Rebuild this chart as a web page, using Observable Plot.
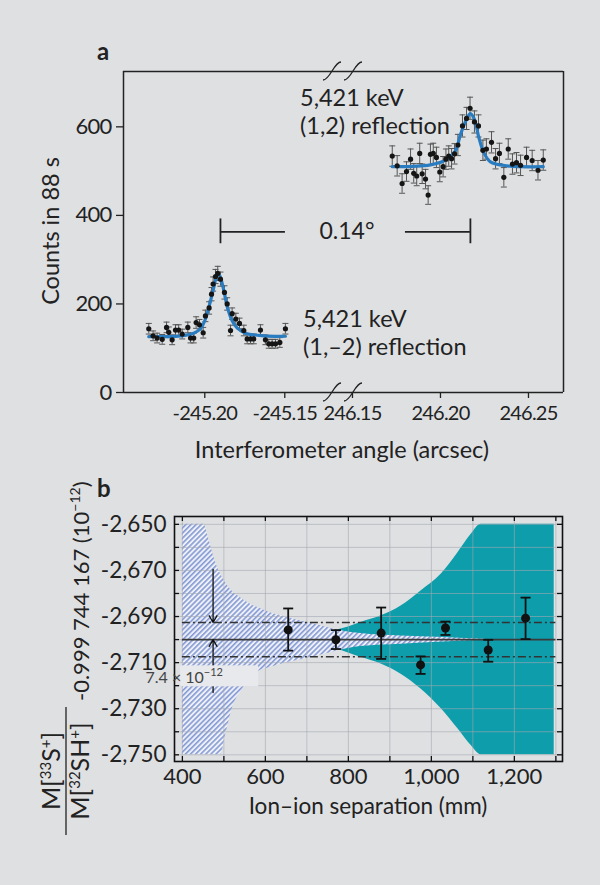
<!DOCTYPE html>
<html>
<head>
<meta charset="utf-8">
<script src="https://cdn.jsdelivr.net/npm/d3@7"></script>
<script src="https://cdn.jsdelivr.net/npm/@observablehq/plot@0.6"></script>
<style>
  html, body { margin: 0; padding: 0; background: #dfe0e2; }
  #fig { position: relative; width: 600px; height: 885px; }
  #fig svg { position: absolute; overflow: visible; }
</style>
</head>
<body>
<div id="fig"></div>
<script>
// ---- panel a: (1,-2) reflection, left of the axis break
const leftAngle = [-245.2350, -245.2323, -245.2298, -245.2266, -245.2239, -245.2225, -245.2204, -245.2183, -245.2163, -245.2141,
  -245.2106, -245.2089, -245.2069, -245.2054, -245.2033, -245.2010, -245.1996, -245.1973, -245.1958, -245.1948,
  -245.1933, -245.1919, -245.1902, -245.1877, -245.1860, -245.1839, -245.1829, -245.1806, -245.1783, -245.1756,
  -245.1735, -245.1714, -245.1694, -245.1652, -245.1621, -245.1600, -245.1579, -245.1558, -245.1531, -245.1496];
const leftCounts = [144, 128, 123, 120, 147, 136, 119, 141, 141, 132,
  147, 123, 123, 158, 153, 135, 173, 191, 222, 245,
  262, 269, 256, 226, 200, 140, 178, 166, 156, 140,
  121, 121, 121, 141, 119, 110, 110, 110, 113, 144];
const leftErr = [12, 11, 11, 11, 12, 12, 11, 12, 12, 11,
  12, 11, 11, 13, 12, 12, 13, 14, 15, 16,
  16, 16, 16, 15, 14, 12, 13, 13, 12, 12,
  11, 11, 11, 12, 11, 10, 10, 10, 11, 12];
const leftFitAngle = [-245.2350, -245.2152, -245.2069, -245.2027, -245.1996, -245.1969, -245.1944, -245.1927, -245.1916,
  -245.1902, -245.1881, -245.1856, -245.1829, -245.1798, -245.1746, -245.1631, -245.1496];
const leftFitCounts = [126, 128, 134, 144, 166, 200, 237, 262, 269, 260, 230, 189, 162, 146, 134, 128, 127];

// ---- panel a: (1,2) reflection, right of the axis break
const rightAngle = [246.1726, 246.1754, 246.1782, 246.1807, 246.1830, 246.1848, 246.1865, 246.1882, 246.1896, 246.1915,
  246.1930, 246.1943, 246.1959, 246.1977, 246.1996, 246.2015, 246.2031, 246.2047, 246.2063, 246.2080,
  246.2099, 246.2125, 246.2148, 246.2168, 246.2193, 246.2216, 246.2241, 246.2261, 246.2290, 246.2313,
  246.2335, 246.2360, 246.2385, 246.2409, 246.2432, 246.2455, 246.2489, 246.2521, 246.2554, 246.2584];
const rightCounts = [534, 512, 472, 499, 527, 495, 489, 540, 494, 482,
  446, 538, 540, 531, 498, 510, 527, 534, 528, 539,
  559, 602, 619, 642, 611, 602, 547, 550, 565, 528,
  540, 486, 550, 516, 519, 513, 531, 524, 502, 525];
const rightErr = [23, 23, 22, 22, 23, 22, 22, 23, 22, 22,
  21, 23, 23, 23, 22, 23, 23, 23, 23, 23,
  24, 25, 25, 25, 25, 25, 23, 23, 24, 23,
  23, 22, 23, 23, 23, 23, 23, 23, 22, 23];
const rightFitAngle = [246.1726, 246.1943, 246.2038, 246.2085, 246.2114, 246.2148, 246.2170, 246.2193, 246.2218,
  246.2246, 246.2284, 246.2379, 246.2584];
const rightFitCounts = [510, 514, 527, 546, 583, 617, 630, 617, 576, 542, 521, 512, 510];

const leftDomain = [-245.2508, -245.1133];
const rightDomain = [246.1449, 246.2699];
const countDomain = [0, 725];
const countTicks = [0, 200, 400, 600];
const leftTicks = [-245.20, -245.15];
const rightTicks = [246.15, 246.20, 246.25];

// 0.14° bracket between the two peaks
const bracketPeak = [-245.1902, 246.2170];
const bracketInner = [-245.1496, 246.1801];
const bracketLevel = 363;
const bracketTick = [336, 392];

// ---- panel b
const sepMm = [655, 770, 879, 974, 1034, 1137, 1227];
const ratio = [-2695.8, -2700.1, -2697.2, -2711.0, -2695.0, -2704.5, -2690.7];
const ratioLo = [-2704.8, -2704.1, -2708.4, -2714.9, -2698.0, -2709.6, -2699.8];
const ratioHi = [-2686.5, -2695.9, -2686.1, -2707.3, -2692.2, -2700.1, -2681.8];
const meanRatio = -2700.0;
const bandRatio = [-2692.6, -2707.4];
const lineSpan = [400, 1300];

const hatchX = [400, 451, 466, 480, 492, 504, 512, 520, 540, 560, 572, 580, 613, 653, 693, 734, 774, 830, 927, 1030, 1130];
const hatchUpper = [-2650, -2650, -2658, -2666.6, -2671.6, -2675.3, -2677.4, -2679, -2681.8, -2684.2, -2685.4, -2686,
  -2688.5, -2690.4, -2692.3, -2694, -2695.8, -2697.4, -2698.4, -2699.1, -2699.9];
const hatchLower = [-2750, -2750, -2750, -2750, -2750, -2741.6, -2735.5, -2730, -2722.9, -2717.8, -2715.5, -2714.2,
  -2712, -2709.9, -2708.4, -2706.7, -2704.8, -2703, -2702, -2701.1, -2700.2];

const tealX = [770, 800, 830, 879, 927, 975, 1024, 1064, 1096, 1120, 1296];
const tealUpper = [-2696, -2694.5, -2692.6, -2689.7, -2685.4, -2678.9, -2671.6, -2662.3, -2654.3, -2650, -2650];
const tealLower = [-2704, -2705.8, -2707.7, -2710.6, -2715, -2721.4, -2730, -2738.7, -2746, -2750, -2750];

const arrowX = 474;
const arrowFrom = [-2669.5, -2723];
const arrowTo = [-2692.6, -2700];

const sepDomain = [381, 1316];
const ratioDomain = [-2752.9, -2646.6];
const sepTicks = [400, 500, 600, 700, 800, 900, 1000, 1100, 1200, 1300];
const sepLabels = [400, 600, 800, 1000, 1200];
const ratioTicks = [-2750, -2740, -2730, -2720, -2710, -2700, -2690, -2680, -2670, -2660, -2650];
const ratioLabels = [-2750, -2730, -2710, -2690, -2670, -2650];

// ---- styling
const FONT = "Lato, 'Open Sans', sans-serif";
const BLUE = "#2a7cc0";
const TEAL = "#0e9dab";
const INK = "#222";

const locale = d3.formatLocale({decimal: ".", thousands: ",", grouping: [3], currency: ["", ""], minus: "-"});
const fmtAngle = locale.format(".2f");
const fmtThousands = locale.format(",");

// short horizontal bar used as error-bar cap
const cap = {
  draw(context, size) {
    const w = Math.sqrt(size / Math.PI);
    context.moveTo(-w, 0);
    context.lineTo(w, 0);
  }
};

const fig = d3.select("#fig");

function peakMarks(angle, counts, err, fitAngle, fitCounts) {
  const rows = angle.map((a, i) => ({angle: a, counts: counts[i], err: err[i]}));
  const fit = fitAngle.map((a, i) => ({angle: a, counts: fitCounts[i]}));
  return [
    Plot.ruleX(rows, {x: "angle", y1: d => d.counts - d.err, y2: d => d.counts + d.err, stroke: "#555", strokeWidth: 1}),
    Plot.dot(rows, {x: "angle", y: d => d.counts + d.err, symbol: cap, r: 3, stroke: "#555", strokeWidth: 1}),
    Plot.dot(rows, {x: "angle", y: d => d.counts - d.err, symbol: cap, r: 3, stroke: "#555", strokeWidth: 1}),
    Plot.line(fit, {x: "angle", y: "counts", stroke: BLUE, strokeWidth: 3.2, curve: "catmull-rom"}),
    Plot.dot(rows, {x: "angle", y: "counts", r: 2.6, fill: "#151515"})
  ];
}

const styleA = {background: "transparent", fontFamily: FONT, fontSize: "20px", letterSpacing: "-0.8px", color: INK, overflow: "visible"};

const leftPlot = Plot.plot({
  width: 343, height: 430,
  marginLeft: 123, marginRight: 0, marginTop: 71, marginBottom: 38,
  x: {domain: leftDomain},
  y: {domain: countDomain},
  style: styleA,
  marks: [
    Plot.ruleY([countDomain[1]], {stroke: INK, strokeWidth: 1.5}),
    Plot.ruleY([countDomain[0]], {stroke: INK, strokeWidth: 1.5}),
    Plot.ruleX([leftDomain[0]], {stroke: INK, strokeWidth: 1.5}),
    Plot.axisY(countTicks, {tickSize: 7, tickPadding: 5, label: null, strokeWidth: 1.3, fontSize: 22}),
    Plot.axisX(leftTicks, {tickSize: 6, tickPadding: 7, tickFormat: fmtAngle, label: null, strokeWidth: 1.3}),
    Plot.ruleX([bracketPeak[0]], {y1: bracketTick[0], y2: bracketTick[1], stroke: INK, strokeWidth: 1.8}),
    Plot.ruleY([bracketLevel], {x1: bracketPeak[0], x2: bracketInner[0], stroke: INK, strokeWidth: 1.8}),
    ...peakMarks(leftAngle, leftCounts, leftErr, leftFitAngle, leftFitCounts)
  ]
});

const rightPlot = Plot.plot({
  width: 257, height: 430,
  marginLeft: 0, marginRight: 37, marginTop: 71, marginBottom: 38,
  x: {domain: rightDomain},
  y: {domain: countDomain, axis: null},
  style: styleA,
  marks: [
    Plot.ruleY([countDomain[1]], {stroke: INK, strokeWidth: 1.5}),
    Plot.ruleY([countDomain[0]], {stroke: INK, strokeWidth: 1.5}),
    Plot.ruleX([rightDomain[1]], {stroke: INK, strokeWidth: 1.5}),
    Plot.axisX(rightTicks, {tickSize: 6, tickPadding: 7, tickFormat: fmtAngle, label: null, strokeWidth: 1.3}),
    Plot.ruleX([bracketPeak[1]], {y1: bracketTick[0], y2: bracketTick[1], stroke: INK, strokeWidth: 1.8}),
    Plot.ruleY([bracketLevel], {x1: bracketInner[1], x2: bracketPeak[1], stroke: INK, strokeWidth: 1.8}),
    ...peakMarks(rightAngle, rightCounts, rightErr, rightFitAngle, rightFitCounts)
  ]
});

fig.append(() => leftPlot).style("left", "0px").style("top", "0px");
fig.append(() => rightPlot).style("left", "343px").style("top", "0px");

// ---- panel b
const pointRows = sepMm.map((x, i) => ({x, y: ratio[i], lo: ratioLo[i], hi: ratioHi[i]}));
const hatchRows = hatchX.map((x, i) => ({x, y1: hatchLower[i], y2: hatchUpper[i]}));
const tealRows = tealX.map((x, i) => ({x, y1: tealLower[i], y2: tealUpper[i]}));
const arrowRows = arrowFrom.map((y, i) => ({x: arrowX, from: y, to: arrowTo[i]}));

const wB = 600, hB = 330, mT = 46, mB = 39, mL = 174, mR = 38;
const innerW = wB - mL - mR, innerH = hB - mT - mB;

const plotB = Plot.plot({
  width: wB, height: hB,
  marginLeft: mL, marginRight: mR, marginTop: mT, marginBottom: mB,
  x: {domain: sepDomain},
  y: {domain: ratioDomain},
  style: {background: "transparent", fontFamily: FONT, fontSize: "22px", color: INK, overflow: "visible"},
  marks: [
    Plot.areaY(tealRows, {x: "x", y1: "y1", y2: "y2", fill: TEAL, curve: "monotone-x"}),
    Plot.areaY(hatchRows, {x: "x", y1: "y1", y2: "y2", fill: "url(#hatchB)", curve: "monotone-x"}),
    Plot.gridX(sepTicks, {stroke: "#a3a9b0", strokeOpacity: 0.6, strokeWidth: 1}),
    Plot.gridY(ratioTicks, {stroke: "#a3a9b0", strokeOpacity: 0.6, strokeWidth: 1}),
    Plot.ruleY([meanRatio], {x1: lineSpan[0], x2: lineSpan[1], stroke: "#3a3a3a", strokeWidth: 1.6}),
    Plot.ruleY(bandRatio, {x1: lineSpan[0], x2: lineSpan[1], stroke: "#333", strokeWidth: 1.5, strokeDasharray: "8,3,2,3"}),
    Plot.arrow(arrowRows, {x1: "x", x2: "x", y1: "from", y2: "to", stroke: "#111", strokeWidth: 1.3, headLength: 9}),
    Plot.ruleX(pointRows, {x: "x", y1: "lo", y2: "hi", stroke: "#111", strokeWidth: 1.8}),
    Plot.dot(pointRows, {x: "x", y: "lo", symbol: cap, r: 5, stroke: "#111", strokeWidth: 1.8}),
    Plot.dot(pointRows, {x: "x", y: "hi", symbol: cap, r: 5, stroke: "#111", strokeWidth: 1.8}),
    Plot.dot(pointRows, {x: "x", y: "y", r: 4.5, fill: "#111"}),
    Plot.frame({stroke: "#111", strokeWidth: 1.6}),
    Plot.tickY(ratioTicks, {y: d => d, insetRight: innerW - 5, stroke: "#111", strokeWidth: 1.3}),
    Plot.tickY(ratioTicks, {y: d => d, insetLeft: innerW - 5, stroke: "#111", strokeWidth: 1.3}),
    Plot.tickX(sepTicks, {x: d => d, insetBottom: innerH - 5, stroke: "#111", strokeWidth: 1.3}),
    Plot.tickX(sepTicks, {x: d => d, insetTop: innerH - 5, stroke: "#111", strokeWidth: 1.3}),
    Plot.axisX(sepLabels, {tickSize: 0, tickPadding: 7, tickFormat: fmtThousands, label: null}),
    Plot.axisY(ratioLabels, {tickSize: 0, tickPadding: 8, tickFormat: fmtThousands, label: null, fontSize: 22.5})
  ]
});

const svgB = d3.select(plotB);
svgB.insert("defs", ":first-child").html(
  '<pattern id="hatchB" patternUnits="userSpaceOnUse" width="3.6" height="3.6" patternTransform="rotate(45)">' +
  '<rect width="3.6" height="3.6" fill="#eef0f8"/><rect width="1.6" height="3.6" fill="#859bd4"/></pattern>');

// 7.4 × 10^-12 label on its light box, placed through the plot's scales
const sx = plotB.scale("x"), sy = plotB.scale("y");
svgB.append("rect")
  .attr("x", sx.apply(396)).attr("y", sy.apply(-2711.4))
  .attr("width", sx.apply(584) - sx.apply(396)).attr("height", sy.apply(-2720.5) - sy.apply(-2711.4))
  .attr("fill", "#e8e9ec");
const boxText = svgB.append("text")
  .attr("x", sx.apply(396) + 4).attr("y", sy.apply(-2719.0))
  .attr("font-size", 16).attr("fill", "#444").attr("font-family", FONT);
boxText.append("tspan").text("7.4 × 10");
boxText.append("tspan").attr("dy", -7).attr("font-size", 11).text("−12");

fig.append(() => plotB).style("left", "0px").style("top", "470px");

// ---- overlay: panel letters, axis titles, annotations, axis breaks
const ov = fig.append("svg")
  .attr("width", 600).attr("height", 885)
  .style("left", "0px").style("top", "0px").style("pointer-events", "none")
  .attr("font-family", FONT).attr("fill", INK);

function txt(x, y, s, size, anchor = "start", weight = "normal") {
  return ov.append("text").attr("x", x).attr("y", y).attr("font-size", size)
    .attr("text-anchor", anchor).attr("font-weight", weight).text(s);
}

txt(97, 60, "a", 24, "start", "bold");
txt(97, 497, "b", 24, "start", "bold");
txt(300, 106, "5,421 keV", 23.5);
txt(300, 134, "(1,2) reflection", 23.5);
txt(303, 327, "5,421 keV", 23.5);
txt(303, 355, "(1,–2) reflection", 23.5);
txt(347, 239, "0.14°", 23, "middle");
txt(342, 458, "Interferometer angle (arcsec)", 23.5, "middle");
txt(368, 814, "Ion–ion separation (mm)", 22.5, "middle");

ov.append("text").attr("transform", "translate(59,231) rotate(-90)")
  .attr("font-size", 23.5).attr("text-anchor", "middle").text("Counts in 88 s");

// axis break marks
for (const cx of [332, 353]) {
  for (const cy of [71, 392]) {
    ov.append("path")
      .attr("d", `M${cx - 9},${cy + 9} C${cx - 2},${cy + 9} ${cx + 2},${cy - 9} ${cx + 9},${cy - 9}`)
      .attr("fill", "none").attr("stroke", INK).attr("stroke-width", 1.3);
  }
}

// panel b y label: fraction then offset and scale
const yl = ov.append("g").attr("transform", "translate(0,837) rotate(-90)");
function chem(g, x, y, parts) {
  const t = g.append("text").attr("x", x).attr("y", y).attr("text-anchor", "middle").attr("font-size", 25);
  for (const [s, sup] of parts) {
    t.append("tspan").attr("dy", sup === 1 ? -9 : sup === 2 ? 9 : 0)
      .attr("font-size", sup === 1 ? 15 : 25).text(s);
  }
  return t;
}
chem(yl, 66, 60, [["M[", 0], ["33", 1], ["S", 2], ["+", 1], ["]", 2]]);
chem(yl, 66, 89, [["M[", 0], ["32", 1], ["SH", 2], ["+", 1], ["]", 2]]);
yl.append("line").attr("x1", 2).attr("x2", 130).attr("y1", 66).attr("y2", 66)
  .attr("stroke", INK).attr("stroke-width", 1.3);
const main = yl.append("text").attr("x", 136).attr("y", 89).attr("font-size", 22);
main.append("tspan").text("-0.999 744 167  (10");
main.append("tspan").attr("dy", -9).attr("font-size", 14).text("−12");
main.append("tspan").attr("dy", 9).text(")");
</script>
</body>
</html>
